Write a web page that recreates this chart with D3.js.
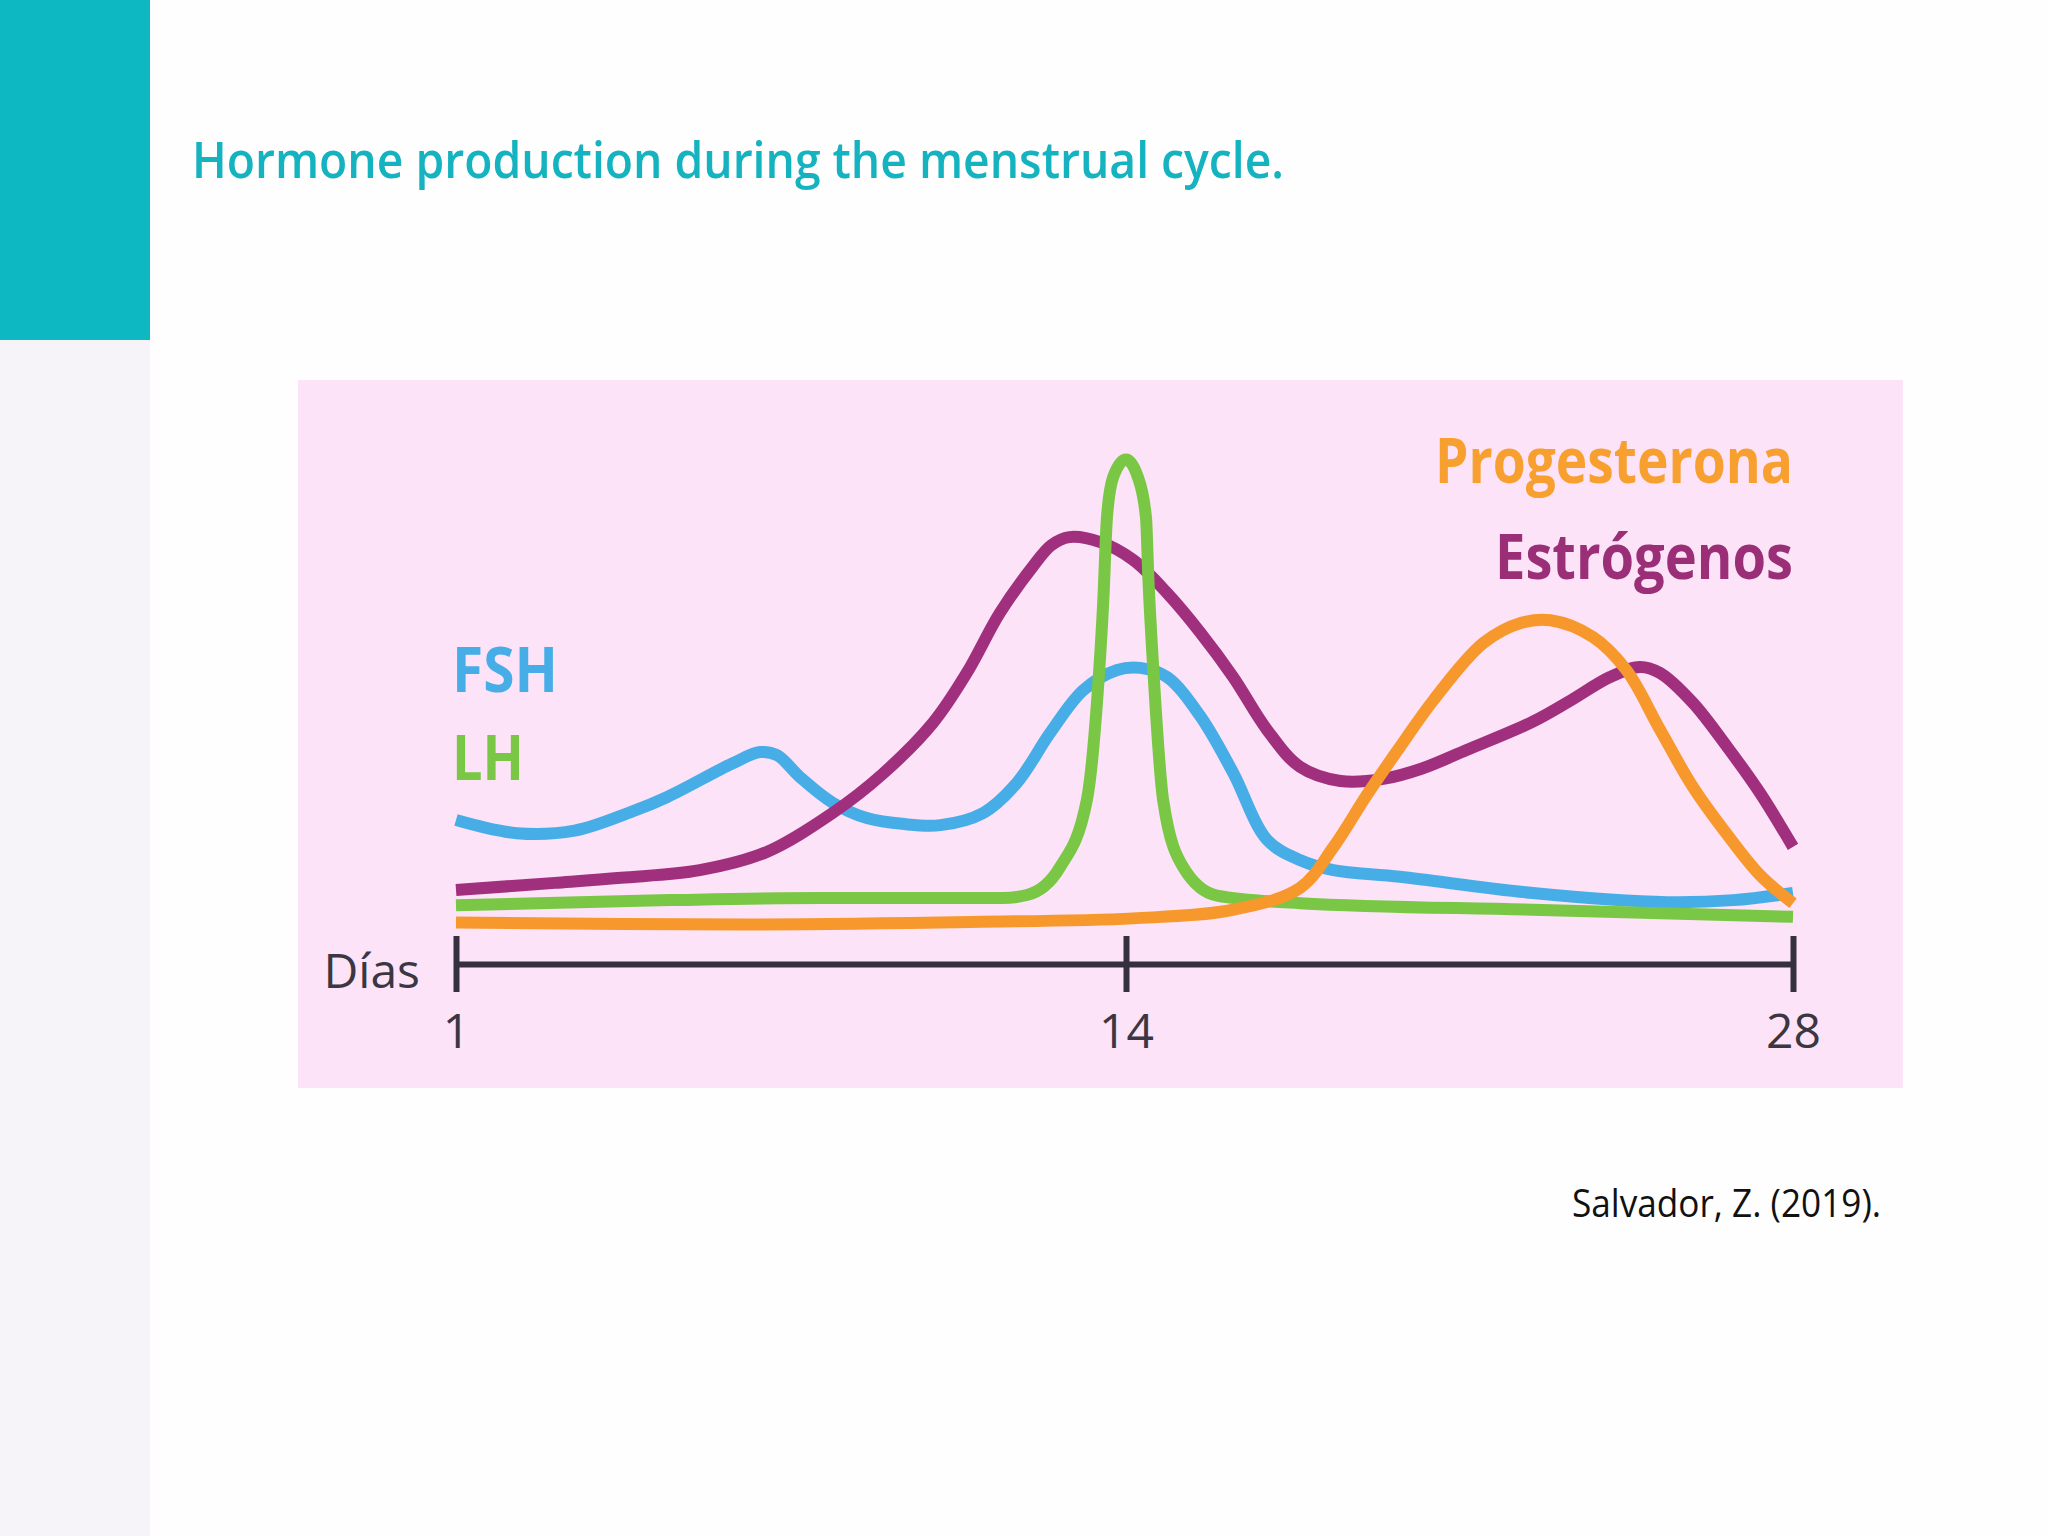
<!DOCTYPE html>
<html>
<head>
<meta charset="utf-8">
<script src="https://cdn.jsdelivr.net/npm/d3@7"></script>
<style>
  html, body { margin: 0; padding: 0; background: #fefefe; }
  svg { display: block; }
</style>
</head>
<body>
<svg id="chart" width="2048" height="1536"></svg>
<script>
// ---- data (day of cycle, relative level 0-100) ----
const dayTicks = [1, 14, 28];

const fshDays = [1, 2.18, 3.3, 4.4, 5.09, 6.37, 6.9, 7.23, 7.67, 8.31, 8.97, 9.7, 10.4, 11.23, 11.88, 12.53, 13.17, 13.83, 14.3, 14.86, 15.55, 16.25, 16.96, 17.65, 18.35, 19.75, 22.54, 25.36, 26.75, 28];
const fshVals = [28.4, 25.8, 26.3, 30, 32.9, 39.6, 41.8, 41.2, 36.9, 31.8, 28.8, 27.6, 27.4, 29.8, 35.7, 45.6, 54, 58, 58.4, 56.6, 49, 37.7, 24.5, 20.5, 18.5, 17.2, 14, 12.2, 12.6, 14];

const lhDays = [1, 5.15, 8.12, 11.6, 12.08, 12.72, 13.24, 13.44, 13.56, 13.63, 13.75, 14.0, 14.25, 14.42, 14.47, 14.57, 14.78, 15.2, 15.91, 17.65, 22.54, 28];
const lhVals = [11.6, 12.6, 13, 13, 13.6, 19.1, 32.3, 52, 71.8, 88, 96, 99.5, 96, 88, 76, 58.6, 32.3, 19.1, 13.5, 12, 10.7, 9.3];

const estDays = [1, 2.92, 4.2, 5.73, 7.03, 8.31, 9.28, 10.25, 10.91, 11.55, 12.2, 12.55, 12.9, 13.5, 14.15, 14.86, 15.55, 16.25, 16.96, 17.65, 18.5, 19.4, 20.2, 21.15, 22.54, 23.3, 24.16, 24.79, 25.21, 25.9, 26.62, 27.31, 28];
const estVals = [14.6, 16, 17, 18.5, 22.1, 29.8, 37.5, 47.5, 57.4, 69.2, 78.5, 82.6, 84.2, 83.2, 79.7, 73.2, 65.5, 56.6, 46.2, 38.9, 36.1, 36.5, 38.5, 42.2, 47.8, 51.8, 56.6, 58.6, 57.4, 51.5, 42.8, 33.7, 23.1];

const progDays = [1, 6.6, 11, 14.15, 16.25, 17.65, 18.35, 19.06, 19.75, 20.45, 21.5, 22.3, 22.91, 23.8, 24.5, 25.21, 25.9, 26.62, 27.31, 28];
const progVals = [8.2, 7.8, 8.3, 9, 10.7, 15, 23, 33.4, 42.8, 52, 63.3, 67.3, 67.8, 64.5, 58, 46.2, 34.9, 25.5, 17.5, 12];

const series = [
  { name: 'FSH', days: fshDays, vals: fshVals, color: '#47ade7', spike: false },
  { name: 'Estrógenos', days: estDays, vals: estVals, color: '#a0307e', spike: false },
  { name: 'LH', days: lhDays, vals: lhVals, color: '#79c744', spike: true },
  { name: 'Progesterona', days: progDays, vals: progVals, color: '#f7982c', spike: false }
];

const svg = d3.select('#chart');

// ---- slide furniture ----
svg.append('rect').attr('x', 0).attr('y', 340).attr('width', 150).attr('height', 1196).attr('fill', '#f6f4f8');
svg.append('rect').attr('x', 0).attr('y', 0).attr('width', 150).attr('height', 340).attr('fill', '#0db8c2');

svg.append('text')
  .attr('x', 192).attr('y', 178)
  .attr('font-family', 'Open Sans, sans-serif')
  .attr('font-weight', 600)
  .attr('font-size', 50)
  .attr('fill', '#15b3c0')
  .attr('textLength', 1092)
  .attr('lengthAdjust', 'spacingAndGlyphs')
  .text('Hormone production during the menstrual cycle.');

svg.append('text')
  .attr('x', 1572).attr('y', 1217)
  .attr('font-family', 'Open Sans, sans-serif')
  .attr('font-size', 38)
  .attr('fill', '#111')
  .attr('textLength', 309)
  .attr('lengthAdjust', 'spacingAndGlyphs')
  .text('Salvador, Z. (2019).');

// ---- chart panel ----
svg.append('rect').attr('x', 298).attr('y', 380).attr('width', 1605).attr('height', 708).attr('fill', '#fce3f7');

// day 14 sits a bit right of the linear midpoint in the original drawing
const x = d3.scaleLinear().domain([1, 14, 28]).range([456, 1126, 1793]);
const y = d3.scaleLinear().domain([0, 100]).range([964, 457]);

const smoothLine = d3.line()
  .x(d => x(d[0]))
  .y(d => y(d[1]))
  .curve(d3.curveCatmullRom.alpha(0.5));

const spikeLine = d3.line()
  .x(d => x(d[0]))
  .y(d => y(d[1]))
  .curve(d3.curveMonotoneX);

svg.append('g')
  .selectAll('path')
  .data(series)
  .join('path')
  .attr('d', s => (s.spike ? spikeLine : smoothLine)(s.days.map((d, i) => [d, s.vals[i]])))
  .attr('fill', 'none')
  .attr('stroke', s => s.color)
  .attr('stroke-width', 12)
  .attr('stroke-linejoin', 'round')
  .attr('stroke-linecap', 'butt');

// ---- day axis ----
const axis = svg.append('g')
  .attr('transform', 'translate(0,964)')
  .call(d3.axisBottom(x).tickValues(dayTicks).tickFormat(d3.format('d')).tickSizeOuter(0).tickSizeInner(28).tickPadding(22));

axis.select('.domain').attr('stroke', '#35303f').attr('stroke-width', 6);
axis.selectAll('.tick line').attr('y1', -28).attr('y2', 28).attr('stroke', '#35303f').attr('stroke-width', 6);
axis.selectAll('.tick text')
  .attr('font-family', 'Open Sans, sans-serif')
  .attr('font-size', 48)
  .attr('fill', '#3a3642');

svg.append('text')
  .attr('x', 420).attr('y', 988)
  .attr('text-anchor', 'end')
  .attr('font-family', 'Open Sans, sans-serif')
  .attr('font-size', 48)
  .attr('fill', '#3a3642')
  .text('Días');

// ---- series labels ----
const labels = [
  { text: 'FSH', x: 452, y: 692, anchor: 'start', color: '#47ade7', len: 106 },
  { text: 'LH', x: 452, y: 780, anchor: 'start', color: '#79c744', len: 72 },
  { text: 'Progesterona', x: 1793, y: 483, anchor: 'end', color: '#f7a030', len: 358 },
  { text: 'Estrógenos', x: 1793, y: 579, anchor: 'end', color: '#9a2f78', len: 298 }
];

svg.append('g')
  .selectAll('text')
  .data(labels)
  .join('text')
  .attr('x', d => d.x)
  .attr('y', d => d.y)
  .attr('text-anchor', d => d.anchor)
  .attr('font-family', 'Open Sans, sans-serif')
  .attr('font-weight', 700)
  .attr('font-size', 62)
  .attr('fill', d => d.color)
  .attr('textLength', d => d.len)
  .attr('lengthAdjust', 'spacingAndGlyphs')
  .text(d => d.text);
</script>
</body>
</html>
